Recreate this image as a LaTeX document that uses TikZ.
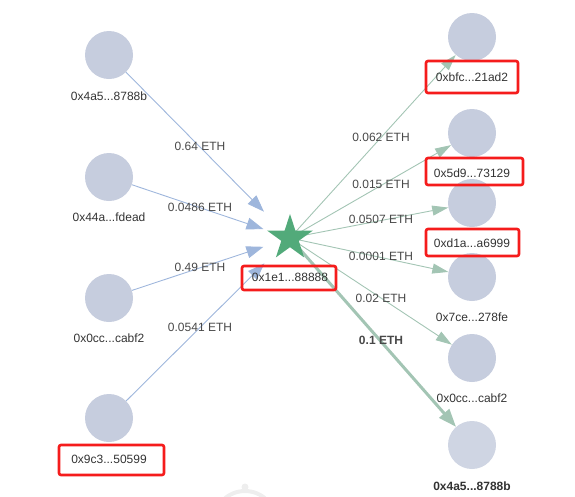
\documentclass[tikz,border=0pt]{standalone}
\usepackage{fontspec}
\setmainfont{Liberation Sans}
\usetikzlibrary{arrows.meta,shapes.geometric}
\definecolor{nodefill}{RGB}{198,205,222}
\definecolor{nodefillb}{RGB}{207,213,227}
\definecolor{hubgreen}{RGB}{82,170,122}
\definecolor{inedge}{RGB}{158,182,220}
\definecolor{outedge}{RGB}{163,197,180}
\definecolor{redbox}{RGB}{245,28,28}
\definecolor{txt}{RGB}{51,51,51}
\definecolor{etxt}{RGB}{72,72,72}
\definecolor{faint}{RGB}{238,238,238}
\begin{document}
\begin{tikzpicture}[x=1pt,y=-1pt,
  acct/.style={circle, fill=nodefill, minimum size=48pt, inner sep=0pt},
  lbl/.style={text=txt, font=\fontsize{12}{14}\selectfont, inner sep=0pt},
  elbl/.style={text=etxt, font=\fontsize{12}{14}\selectfont, inner sep=0pt},
  inarrow/.style={draw=inedge, line width=0.9pt, -{Triangle[length=17pt,width=12pt]}},
  outarrow/.style={draw=outedge, line width=0.9pt, -{Triangle[length=16pt,width=10pt]}},
  bigarrow/.style={draw=outedge, line width=3pt, -{Triangle[length=18pt,width=13pt]}},
  hl/.style={draw=redbox, line width=2.6pt, rounded corners=2pt}
]
\useasboundingbox (0,0) rectangle (575,496);

% faint partial symbol at bottom
\begin{scope}
\clip (0,0) rectangle (575,496);
\draw[faint, line width=4pt] (245,522) circle (31);
\fill[faint] (245,487) circle (3.5);
\end{scope}

% accounts
\node[acct] (L1) at (109,55) {};
\node[acct] (L2) at (109,177) {};
\node[acct] (L3) at (109,298) {};
\node[acct] (L4) at (109,418) {};
\node[acct] (R1) at (472,37) {};
\node[acct] (R2) at (472,133) {};
\node[acct] (R3) at (472,203) {};
\node[acct] (R4) at (472,277) {};
\node[acct] (R5) at (472,358) {};
\node[acct, fill=nodefillb] (R6) at (472,445) {};
\coordinate (hubc) at (290,238);

% incoming edges
\draw[inarrow, shorten >=37pt] (L1) -- (hubc);
\draw[inarrow, shorten >=28pt] (L2) -- (hubc);
\draw[inarrow, shorten >=28pt] (L3) -- (hubc);
\draw[inarrow, shorten >=36pt] (L4) -- (hubc);

% outgoing edges
\draw[outarrow] (hubc) -- (R1);
\draw[outarrow] (hubc) -- (R2);
\draw[outarrow] (hubc) -- (R3);
\draw[outarrow] (hubc) -- (R4);
\draw[outarrow] (hubc) -- (R5);
\draw[bigarrow] (hubc) -- (R6);

% hub
\node[star, star points=5, star point ratio=2.618, minimum size=48pt, inner sep=0pt, fill=hubgreen] (hub) at (hubc) {};

% edge labels
\node[elbl] (e1) at (200,146) {0.64 ETH};
\node[elbl] (e2) at (200,207) {0.0486 ETH};
\node[elbl] (e3) at (200,267) {0.49 ETH};
\node[elbl] (e4) at (200,327) {0.0541 ETH};
\node[elbl] (e5) at (381,137) {0.062 ETH};
\node[elbl] (e6) at (381,184) {0.015 ETH};
\node[elbl] (e7) at (381,219) {0.0507 ETH};
\node[elbl] (e8) at (381,256) {0.0001 ETH};
\node[elbl] (e9) at (381,298) {0.02 ETH};
\node[elbl, font=\fontsize{12}{14}\selectfont\bfseries] (e10) at (381,340) {0.1 ETH};

% node labels
\node[lbl] (tL1) at (109,96) {0x4a5...8788b};
\node[lbl] (tL2) at (109,217) {0x44a...fdead};
\node[lbl] (tL3) at (109,338) {0x0cc...cabf2};
\node[lbl] (tL4) at (109,459) {0x9c3...50599};
\node[lbl] (tH) at (290,277) {0x1e1...88888};
\node[lbl] (tR1) at (472,77) {0xbfc...21ad2};
\node[lbl] (tR2) at (472,173) {0x5d9...73129};
\node[lbl] (tR3) at (472,243) {0xd1a...a6999};
\node[lbl] (tR4) at (472,317) {0x7ce...278fe};
\node[lbl] (tR5) at (472,398) {0x0cc...cabf2};
\node[lbl, font=\fontsize{12}{14}\selectfont\bfseries] (tR6) at (472,486) {0x4a5...8788b};

% highlight boxes
\draw[hl] (59,445) rectangle (164,475);
\draw[hl] (242,266) rectangle (336,290);
\draw[hl] (426,61) rectangle (518,93);
\draw[hl] (426,158) rectangle (523,185);
\draw[hl] (426,229) rectangle (519,256);
\end{tikzpicture}
\end{document}
